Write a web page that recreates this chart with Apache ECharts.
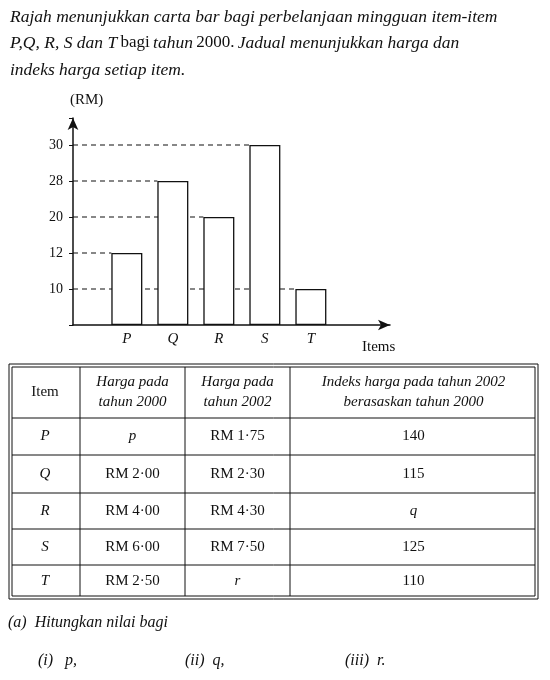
<!DOCTYPE html>
<html><head><meta charset="utf-8">
<script src="https://cdn.jsdelivr.net/npm/echarts@6/dist/echarts.min.js"></script>
<style>html,body{margin:0;background:#fff}#c{width:550px;height:680px}</style>
</head><body><div id="c"></div>
<script>
const categories=['P','Q','R','S','T'];
const values=[12,28,20,30,10];
const tickLabels=[10,12,20,28,30];
const tableHeader=['Item','Harga pada\ntahun 2000','Harga pada\ntahun 2002','Indeks harga pada tahun 2002\nberasaskan tahun 2000'];
const priceP2000=['p','RM 2·00','RM 4·00','RM 6·00','RM 2·50'];
const price2002=['RM 1·75','RM 2·30','RM 4·30','RM 7·50','r'];
const indexVals=['140','115','q','125','110'];

const F='"Liberation Serif","DejaVu Serif",serif';
const pos=v=>tickLabels.indexOf(v)+1;
const chart=echarts.init(document.getElementById('c'));
const g=[];
const txt=(x,y,t,o)=>g.push(Object.assign({type:'text',x,y,style:Object.assign({text:t,font:'italic 17.5px '+F,fill:'#111',textVerticalAlign:'middle'},o||{})}));
txt(10,17,'Rajah menunjukkan carta bar bagi perbelanjaan mingguan item-item');
g.push({type:'text',x:10,y:43,style:{text:'{i|P,Q, R, S dan T} {n|bagi} {i|tahun} {n|2000.} {i|Jadual menunjukkan harga dan}',textVerticalAlign:'middle',rich:{i:{font:'italic 17.5px '+F,fill:'#111'},n:{font:'17px '+F,fill:'#111'}}}});
txt(10,70,'indeks harga setiap item.');
txt(70,100,'(RM)',{font:'15px '+F});
txt(362,347,'Items',{font:'15px '+F});
const cols=[10,80,185,290,537], rows=[365,418,455,493,529,565,598];
g.push({type:'rect',shape:{x:9,y:364,width:529,height:235},style:{fill:'none',stroke:'#111',lineWidth:1}});
g.push({type:'rect',shape:{x:12,y:367,width:523,height:229},style:{fill:'none',stroke:'#111',lineWidth:1}});
for(let i=1;i<rows.length-1;i++)g.push({type:'line',shape:{x1:12,y1:rows[i],x2:535,y2:rows[i]},style:{stroke:'#111',lineWidth:1}});
for(let i=1;i<cols.length-1;i++)g.push({type:'line',shape:{x1:cols[i],y1:367,x2:cols[i],y2:596},style:{stroke:'#111',lineWidth:1}});
const cc=i=>(cols[i]+cols[i+1])/2;
tableHeader.forEach((h,i)=>g.push({type:'text',x:cc(i),y:392,style:{text:h,font:(i?'italic ':'')+'15px '+F,fill:'#111',align:'center',textVerticalAlign:'middle',lineHeight:20}}));
categories.forEach((c,r)=>{const y=(rows[r+1]+rows[r+2])/2;
 [c,priceP2000[r],price2002[r],indexVals[r]].forEach((t,i)=>{const it=(i==0||t.length==1);
 g.push({type:'text',x:cc(i),y,style:{text:t,font:(it?'italic ':'')+'15px '+F,fill:'#111',align:'center',textVerticalAlign:'middle'}});});});
txt(8,623,'(a)  Hitungkan nilai bagi',{font:'italic 16px '+F});
txt(38,661,'(i)   p,',{font:'italic 16px '+F});txt(185,661,'(ii)  q,',{font:'italic 16px '+F});txt(345,661,'(iii)  r.',{font:'italic 16px '+F});

chart.setOption({animation:false,
 grid:{left:73,top:118,width:317,height:207},
 xAxis:{type:'value',min:-0.17,max:6.72,axisLabel:{show:false},axisTick:{show:false},splitLine:{show:false},
  axisLine:{onZero:false,lineStyle:{color:'#111',width:1.5},symbol:['none','arrow'],symbolSize:[8,12]}},
 yAxis:{type:'value',min:0,max:5.75,interval:1,splitLine:{show:false},
  axisTick:{show:true,length:4,lineStyle:{color:'#111'}},
  axisLabel:{formatter:v=>(v>=1&&v<=5&&v%1===0)?String(tickLabels[v-1]):'',color:'#111',fontFamily:F,fontSize:14,margin:10},
  axisLine:{show:true,onZero:false,lineStyle:{color:'#111',width:1.5},symbol:['none','arrow'],symbolSize:[8,12]}},
 series:[
  {type:'custom',z:1,data:values.map((v,i)=>[i+1,pos(v)]),renderItem:(p,api)=>{
    const a=api.coord([api.value(0),api.value(1)]), o=api.coord([-0.17,0]);
    return {type:'group',children:[
     {type:'line',shape:{x1:o[0],y1:a[1],x2:a[0]-15.5,y2:a[1]},style:{stroke:'#111',lineDash:[5,4],lineWidth:1.2}},
     {type:'text',x:a[0],y:o[1]+14,style:{text:categories[p.dataIndex],font:'italic 15px '+F,fill:'#111',align:'center',verticalAlign:'middle'}}]};
  }},
  {type:'bar',z:5,barWidth:31,data:values.map((v,i)=>[i+1,pos(v)]),itemStyle:{color:'#fff',borderColor:'#111',borderWidth:1.3}}],
 graphic:g});
</script></body></html>
